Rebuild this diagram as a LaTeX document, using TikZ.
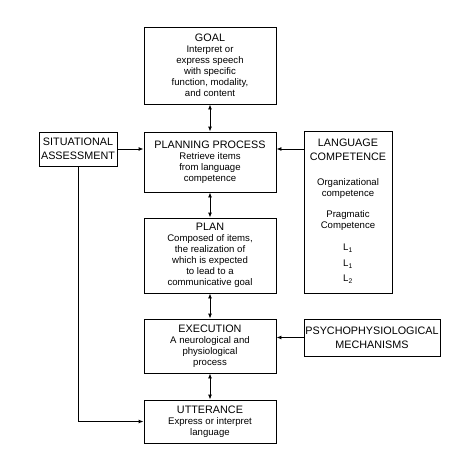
\documentclass[tikz,border=0pt]{standalone}
\usepackage{fontspec}
\setmainfont{Liberation Sans}
\usetikzlibrary{arrows.meta}
\newcommand{\ttl}{\fontsize{10.8}{14}\selectfont}
\newcommand{\bdy}{\fontsize{9.6}{11}\selectfont}
\tikzset{
  box/.style={draw, line width=0.9pt, inner sep=0pt, align=center, font=\bdy},
  lbl/.style={inner sep=0pt, align=center},
  con/.style={line width=0.9pt, -{Latex[length=5pt,width=4pt]}},
  dcon/.style={line width=0.9pt, {Latex[length=5pt,width=4pt]}-{Latex[length=5pt,width=4pt]}}
}
\begin{document}
\begin{tikzpicture}[x=1pt,y=-1pt]
\useasboundingbox (0,0) rectangle (474,474);
% main boxes
\node[box, minimum width=132pt, minimum height=77pt] (goal) at (210,65.5)
  {{\ttl GOAL}\\Interpret or\\express speech\\with specific\\function, modality,\\and content};
\node[box, minimum width=132pt, minimum height=60pt] (plng) at (210,162)
  {{\ttl PLANNING PROCESS}\\Retrieve items\\from language\\competence};
\node[box, minimum width=132pt, minimum height=75pt] (plan) at (210,255.5)
  {{\ttl PLAN}\\Composed of items,\\the realization of\\which is expected\\to lead to a\\communicative goal};
\node[box, minimum width=132pt, minimum height=54pt] (exec) at (210,346)
  {{\ttl EXECUTION}\\A neurological and\\physiological\\process};
\node[box, minimum width=132pt, minimum height=43pt] (utt) at (210,421.5)
  {{\ttl UTTERANCE}\\Express or interpret\\language};
\node[box, font=\ttl, minimum width=78pt, minimum height=34pt] (sit) at (78,149)
  {SITUATIONAL\\ASSESSMENT};
\node[box, font=\ttl, minimum width=136pt, minimum height=37pt] (psy) at (372,337.5)
  {PSYCHOPHYSIOLOGICAL\\MECHANISMS};
% language competence
\node[draw, line width=0.9pt, minimum width=88pt, minimum height=162pt, inner sep=0pt] (lang) at (348,212) {};
\node[lbl, font=\ttl] (langt) at (348,150) {LANGUAGE\\COMPETENCE};
\node[lbl, font=\bdy] (org) at (348,189) {Organizational\\competence};
\node[lbl, font=\bdy] (prag) at (348,221) {Pragmatic\\Competence};
\node[lbl, font=\bdy] (l1) at (348,248) {L\textsubscript{1}};
\node[lbl, font=\bdy] (li) at (348,264) {L\textsubscript{1}};
\node[lbl, font=\bdy] (l2) at (348,279) {L\textsubscript{2}};
% connectors
\draw[dcon] (goal.south) -- (plng.north);
\draw[dcon] (plng.south) -- (plan.north);
\draw[dcon] (plan.south) -- (exec.north);
\draw[dcon] (exec.south) -- (utt.north);
\draw[con] (sit.east) -- (sit.east -| plng.west);
\draw[con] (lang.west |- sit.east) -- (plng.east |- sit.east);
\draw[con] (psy.west) -- (psy.west -| exec.east);
\draw[con] (sit.south) |- (utt.west);
\end{tikzpicture}
\end{document}
